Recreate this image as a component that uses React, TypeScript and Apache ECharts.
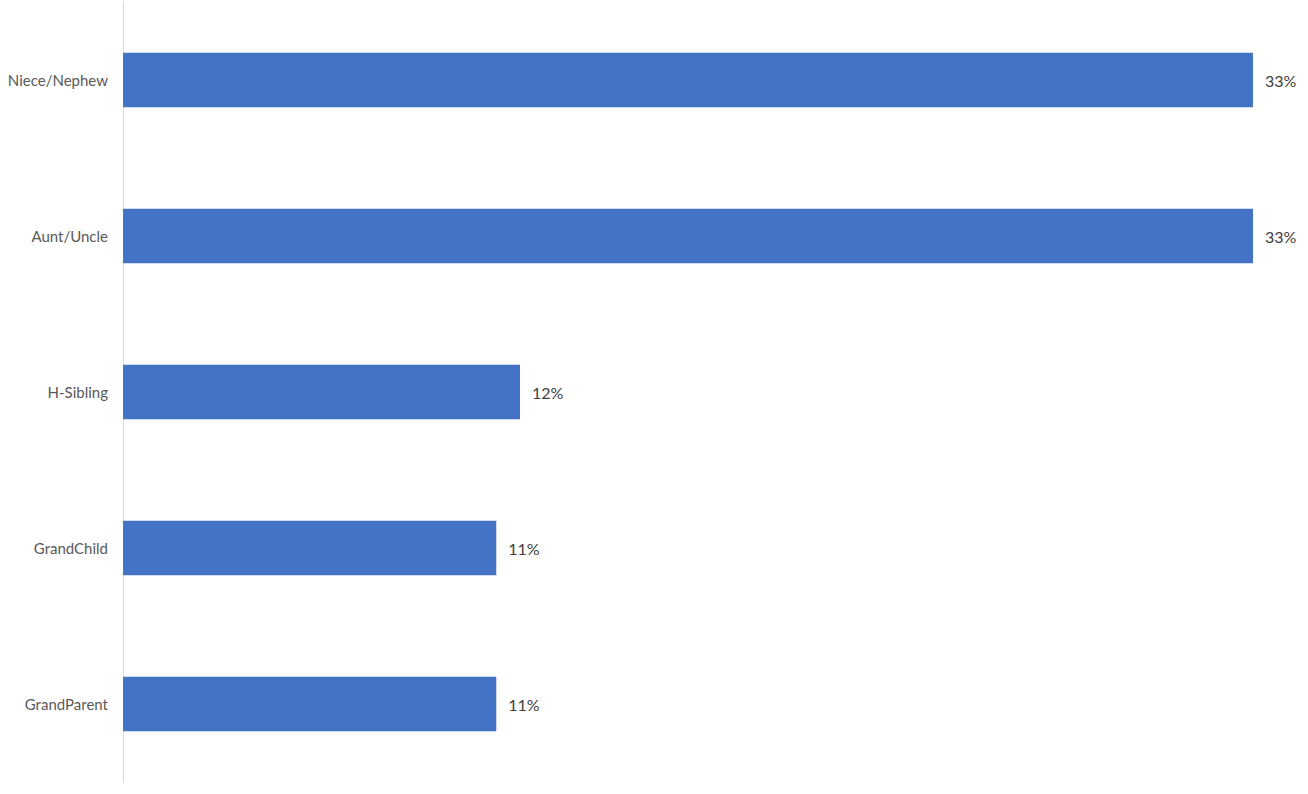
import React, { useEffect, useRef } from "react";
import * as echarts from "echarts";

const categories = ["Niece/Nephew", "Aunt/Uncle", "H-Sibling", "GrandChild", "GrandParent"];
const values = [33.3, 33.3, 11.7, 11.0, 11.0];

export default function App() {
  const ref = useRef<HTMLDivElement>(null);
  useEffect(() => {
    const chart = echarts.init(ref.current!, null, { renderer: "svg" });
    chart.setOption({
      animation: false,
      backgroundColor: "#ffffff",
      grid: { left: 123, right: 55, top: 2, bottom: 12, containLabel: false },
      xAxis: {
        type: "value",
        min: 0,
        max: 33.3,
        show: false,
      },
      yAxis: {
        type: "category",
        data: categories,
        inverse: true,
        axisLine: { show: true, lineStyle: { color: "#d9d9d9", width: 1 } },
        axisTick: { show: false },
        axisLabel: {
          color: "#595959",
          fontFamily: "Lato",
          fontSize: 15,
          margin: 15,
        },
      },
      series: [
        {
          type: "bar",
          data: values,
          barCategoryGap: "65%",
          itemStyle: { color: "#4472c4" },
          label: {
            show: true,
            position: "right",
            distance: 12,
            color: "#404040",
            fontFamily: "Lato",
            fontSize: 16,
            formatter: (p: any) => Math.round(p.value) + "%",
          },
        },
      ],
    });
    return () => chart.dispose();
  }, []);
  return (
    <div
      ref={ref}
      style={{ position: "fixed", left: 0, top: 0, width: 1308, height: 794 }}
    />
  );
}
